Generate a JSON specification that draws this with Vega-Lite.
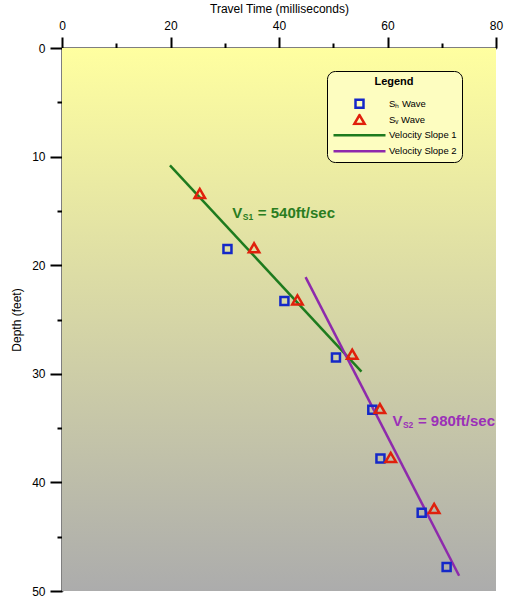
{
  "$schema": "https://vega.github.io/schema/vega-lite/v6.json",
  "width": 434,
  "height": 543,
  "autosize": {"type": "none"},
  "padding": {"left": 62, "top": 48, "right": 13, "bottom": 9},
  "config": {"view": {"stroke": null}, "font": "Liberation Sans"},
  "datasets": {
    "bg": [{"time": 0, "time2": 80, "depth": 0, "depth2": 50}],
    "sh": [
      {"time": 30.5, "depth": 18.5},
      {"time": 41.0, "depth": 23.3},
      {"time": 50.5, "depth": 28.5},
      {"time": 57.2, "depth": 33.3},
      {"time": 58.7, "depth": 37.8},
      {"time": 66.3, "depth": 42.8},
      {"time": 70.9, "depth": 47.8}
    ],
    "sv": [
      {"time": 25.4, "depth": 13.4},
      {"time": 35.4, "depth": 18.4},
      {"time": 43.4, "depth": 23.2},
      {"time": 53.5, "depth": 28.2},
      {"time": 58.6, "depth": 33.2},
      {"time": 60.6, "depth": 37.7},
      {"time": 68.6, "depth": 42.4}
    ],
    "slope1": [{"time": 19.9, "depth": 10.8}, {"time": 55.2, "depth": 29.8}],
    "slope2": [{"time": 44.9, "depth": 21.1}, {"time": 73.2, "depth": 48.6}],
    "ann": [
      {"time": 31.4, "depth": 15.63, "series": "Velocity Slope 1", "v": "V", "sub": "S1", "rest": "= 540ft/sec"},
      {"time": 60.9, "depth": 34.8, "series": "Velocity Slope 2", "v": "V", "sub": "S2", "rest": "= 980ft/sec"}
    ],
    "leg": [
      {"time": -50, "depth": 0, "series": "Sₕ Wave"},
      {"time": -50, "depth": 0, "series": "Sᵥ Wave"},
      {"time": -50, "depth": 0, "series": "Velocity Slope 1"},
      {"time": -50, "depth": 0, "series": "Velocity Slope 2"}
    ]
  },
  "encoding": {
    "x": {
      "field": "time",
      "type": "quantitative",
      "title": "Travel Time (milliseconds)",
      "scale": {"domain": [0, 80], "nice": false, "zero": false},
      "axis": {
        "orient": "top",
        "values": [0, 10, 20, 30, 40, 50, 60, 70, 80],
        "labelExpr": "datum.value % 20 === 0 ? datum.label : ''",
        "tickSize": {"condition": {"test": "datum.value % 20 === 0", "value": 11}, "value": 5},
        "tickWidth": 2,
        "tickColor": "black",
        "domainColor": "black",
        "domainWidth": 2,
        "grid": false,
        "labelFontSize": 12,
        "labelColor": "black",
        "labelPadding": 5,
        "labelFlush": false,
        "titleFontSize": 12,
        "titleFontWeight": "normal",
        "titleColor": "black",
        "titlePadding": 4
      }
    },
    "y": {
      "field": "depth",
      "type": "quantitative",
      "title": "Depth (feet)",
      "scale": {"domain": [0, 50], "nice": false, "zero": false, "reverse": true},
      "axis": {
        "orient": "left",
        "values": [0, 5, 10, 15, 20, 25, 30, 35, 40, 45, 50],
        "labelExpr": "datum.value % 10 === 0 ? datum.label : ''",
        "tickSize": {"condition": {"test": "datum.value % 10 === 0", "value": 12}, "value": 5},
        "tickWidth": 2,
        "tickColor": "black",
        "domainColor": "black",
        "domainWidth": 2,
        "grid": false,
        "labelFontSize": 12,
        "labelColor": "black",
        "labelPadding": 5,
        "labelFlush": false,
        "titleFontSize": 12,
        "titleFontWeight": "normal",
        "titleColor": "black",
        "titlePadding": 8
      }
    }
  },
  "layer": [
    {
      "data": {"name": "bg"},
      "mark": {
        "type": "rect",
        "color": {
          "gradient": "linear",
          "x1": 0, "y1": 0, "x2": 0, "y2": 1,
          "stops": [
            {"offset": 0, "color": "#ffffa0"},
            {"offset": 1, "color": "#acacac"}
          ]
        }
      },
      "encoding": {
        "x2": {"field": "time2"},
        "y2": {"field": "depth2"}
      }
    },
    {
      "data": {"name": "slope1"},
      "mark": {"type": "line", "color": "#1e7b1e", "strokeWidth": 2.5},
      "encoding": {}
    },
    {
      "data": {"name": "slope2"},
      "mark": {"type": "line", "color": "#8e2aac", "strokeWidth": 2.5},
      "encoding": {}
    },
    {
      "data": {"name": "sh"},
      "mark": {"type": "point", "shape": "square", "filled": false, "color": "#1428c8", "strokeWidth": 2.5, "size": 64, "opacity": 1}
    },
    {
      "data": {"name": "sv"},
      "mark": {"type": "point", "shape": "triangle-up", "filled": false, "color": "#e0200c", "strokeWidth": 2.5, "size": 110, "opacity": 1}
    },
    {
      "data": {"name": "ann"},
      "mark": {"type": "text", "align": "left", "baseline": "alphabetic", "fontSize": 15, "fontWeight": "bold"},
      "encoding": {
        "text": {"field": "v"},
        "fill": {"field": "series", "type": "nominal", "scale": {"domain": ["Velocity Slope 1", "Velocity Slope 2"], "range": ["#2a7d1f", "#9b30b8"]}, "legend": null}
      }
    },
    {
      "data": {"name": "ann"},
      "mark": {"type": "text", "align": "left", "baseline": "alphabetic", "fontSize": 8.5, "fontWeight": "bold", "dx": 10.5, "dy": 2.5},
      "encoding": {
        "text": {"field": "sub"},
        "fill": {"field": "series", "type": "nominal", "legend": null}
      }
    },
    {
      "data": {"name": "ann"},
      "mark": {"type": "text", "align": "left", "baseline": "alphabetic", "fontSize": 15, "fontWeight": "bold", "dx": 25.5},
      "encoding": {
        "text": {"field": "rest"},
        "fill": {"field": "series", "type": "nominal", "legend": null}
      }
    },
    {
      "data": {"name": "leg"},
      "mark": {"type": "point", "filled": false, "clip": true, "size": 100, "strokeWidth": 2.5, "opacity": 1},
      "encoding": {
        "color": {
          "field": "series",
          "type": "nominal",
          "scale": {
            "domain": ["Sₕ Wave", "Sᵥ Wave", "Velocity Slope 1", "Velocity Slope 2"],
            "range": ["#1428c8", "#e0200c", "#1e7b1e", "#8e2aac"]
          },
          "legend": {
            "title": "Legend",
            "orient": "none",
            "legendX": 265,
            "legendY": 23,
            "padding": 5,
            "fillColor": "#fdfdc0",
            "strokeColor": "black",
            "cornerRadius": 8,
            "titleFontSize": 11,
            "titleFontWeight": "bold",
            "titleAnchor": "middle",
            "titleColor": "black",
            "titlePadding": 11,
            "labelFontSize": 9.5,
            "labelColor": "black",
            "labelOffset": 44,
            "symbolSize": 100,
            "symbolStrokeWidth": 2.5,
            "symbolOpacity": 1,
            "clipHeight": 11.5,
            "rowPadding": 3.8
          }
        },
        "shape": {
          "field": "series",
          "type": "nominal",
          "scale": {
            "domain": ["Sₕ Wave", "Sᵥ Wave", "Velocity Slope 1", "Velocity Slope 2"],
            "range": [
              "M3.4,-0.8L5,-0.8L5,0.8L3.4,0.8Z",
              "M4.2,-0.9L5.25,0.9L3.15,0.9Z",
              "M-1,0L9.4,0",
              "M-1,0L9.4,0"
            ]
          }
        }
      }
    }
  ]
}
